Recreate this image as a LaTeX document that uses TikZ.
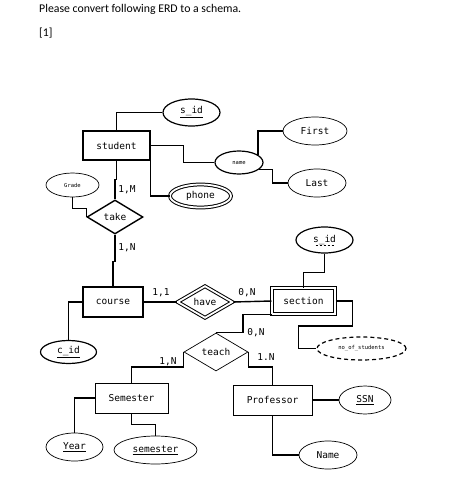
\documentclass[tikz,border=0pt]{standalone}
\usepackage{fontspec}
\setmainfont{Carlito}
\newfontfamily\erdmono{DejaVu Sans Mono}
\usetikzlibrary{shapes.geometric}
\begin{document}
\begin{tikzpicture}[x=1pt,y=-1pt,
  conn/.style={line width=1.4pt},
  entbox/.style={draw,line width=1.2pt,rectangle,inner sep=0pt,font=\erdmono\fontsize{9.5}{10}\selectfont},
  entthin/.style={draw,line width=0.7pt,rectangle,inner sep=0pt,font=\erdmono\fontsize{9.5}{10}\selectfont},
  attr/.style={draw,line width=1.2pt,ellipse,inner sep=0pt,font=\erdmono\fontsize{9.5}{10}\selectfont},
  attrthin/.style={draw,line width=0.7pt,ellipse,inner sep=0pt,font=\erdmono\fontsize{9.5}{10}\selectfont},
  rel/.style={draw,line width=1.4pt,diamond,inner sep=0pt,font=\erdmono\fontsize{9.5}{10}\selectfont},
  card/.style={inner sep=0pt,font=\erdmono\fontsize{9.5}{10}\selectfont},
  tiny/.style={font=\erdmono\fontsize{5.5}{6}\selectfont},
]
\useasboundingbox[fill=white] (0,0) rectangle (474,493);

\node[anchor=west,inner sep=0pt,font=\fontsize{11.8}{13}\selectfont] (title) at (39,9) {Please convert following ERD to a schema.};
\node[anchor=west,inner sep=0pt,font=\fontsize{11.8}{13}\selectfont] (ref) at (39,33) {[1]};

% entities
\node[entbox,minimum width=67pt,minimum height=29pt] (student) at (116.5,145.5) {student};
\node[entbox,minimum width=60pt,minimum height=30pt] (course) at (113,302) {course};
\node[entbox,line width=1pt,double,double distance=2.6pt,minimum width=63pt,minimum height=26pt] (section) at (303.5,301) {section};
\node[entthin,minimum width=73pt,minimum height=30pt] (semester) at (131.5,398) {Semester};
\node[entthin,minimum width=79pt,minimum height=30pt] (professor) at (272.5,400) {Professor};

% attributes
\node[attr,minimum width=57pt,minimum height=27pt] (sid1) at (191.5,112.5) {\underline{s\_id}};
\node[attr,minimum width=48pt,minimum height=23pt,tiny] (name) at (239,162.5) {name};
\node[attrthin,minimum width=64pt,minimum height=28pt] (first) at (315,131) {First};
\node[attrthin,minimum width=58pt,minimum height=28pt] (last) at (317,183) {Last};
\node[attr,line width=1pt,double,double distance=1.8pt,minimum width=61pt,minimum height=23pt] (phone) at (200.5,196) {phone};
\node[attrthin,minimum width=53pt,minimum height=24pt,tiny] (grade) at (72.5,185) {Grade};
\node[attr,minimum width=56pt,minimum height=23pt] (cid) at (68.5,352) {\underline{c\_id}};
\node[attr,minimum width=57pt,minimum height=26pt] (sid2) at (324.5,240) {s\_id};
\draw[line width=0.8pt,dash pattern=on 2.5pt off 1.5pt] ([xshift=-9pt,yshift=-5pt]sid2.center) -- ([xshift=9pt,yshift=-5pt]sid2.center);
\node[attr,dashed,dash pattern=on 4pt off 3pt,minimum width=89pt,minimum height=23pt,tiny] (nos) at (361.5,348.5) {no\_of\_students};
\node[attrthin,minimum width=57pt,minimum height=28pt] (year) at (74.5,447) {\underline{Year}};
\node[attrthin,minimum width=83pt,minimum height=28pt] (semattr) at (155.5,450) {\underline{semester}};
\node[attrthin,minimum width=52pt,minimum height=28pt] (ssn) at (365,400) {\underline{SSN}};
\node[attrthin,minimum width=58pt,minimum height=28pt] (pname) at (328,455) {Name};

% relationships
\node[rel,minimum width=56pt,minimum height=34pt] (take) at (115,217) {take};
\node[rel,line width=1pt,double,double distance=1.8pt,minimum width=55pt,minimum height=32pt] (have) at (205,302) {have};
\node[draw,line width=0.7pt,diamond,inner sep=0pt,minimum width=64pt,minimum height=38pt,font=\erdmono\fontsize{9.5}{10}\selectfont] (teach) at (216,352) {teach};

% connectors
\draw[conn] (student.north) |- (sid1.west);
\draw[conn] (student.east) -- ++(33,0) |- (name.west);
\draw[conn] (name.22) |- (first.west);
\draw[conn] (name.-20) -| ([xshift=-15pt]last.west) -- (last.west);
\draw[conn] (student.south east) |- (phone.west);
\draw[conn] (student.south) -- ++(0,19) -| (take.north);
\draw[conn] (grade.south) -- ++(0,11) -| (take.west);
\draw[conn] (take.south) -- ++(0,27) -| (course.north);
\draw[conn] (course.west) -| (cid.north);
\draw[conn] (course.east) -- (have.west);
\draw[conn] (have.east) -- (section.west);
\draw[conn] (sid2.south) -- ++(0,19) -| (section.north);
\draw[conn] (section.east) -- ++(17,0) -- ++(0,25) -| ([xshift=-18pt]nos.west) -- (nos.west);
\draw[conn] (teach.north) -- ++(27,0) |- (section.south west);
\draw[conn] (teach.east) -- ++(0,15) -| (professor.north);
\draw[conn] (teach.west) -- ++(0,15) -| (semester.north);
\draw[conn] (semester.west) -| (year.north);
\draw[conn] (semester.south) -- ++(0,11) -| (semattr.north);
\draw[conn] (professor.east) -- (ssn.west);
\draw[conn] (professor.south) |- (pname.west);

% cardinalities
\node[card] (c1) at (127,190) {1,M};
\node[card] (c2) at (127,248) {1,N};
\node[card] (c3) at (161,293) {1,1};
\node[card] (c4) at (247,293) {0,N};
\node[card] (c5) at (256,333) {0,N};
\node[card] (c6) at (266,357) {1.N};
\node[card] (c7) at (168,362) {1,N};
\end{tikzpicture}
\end{document}
